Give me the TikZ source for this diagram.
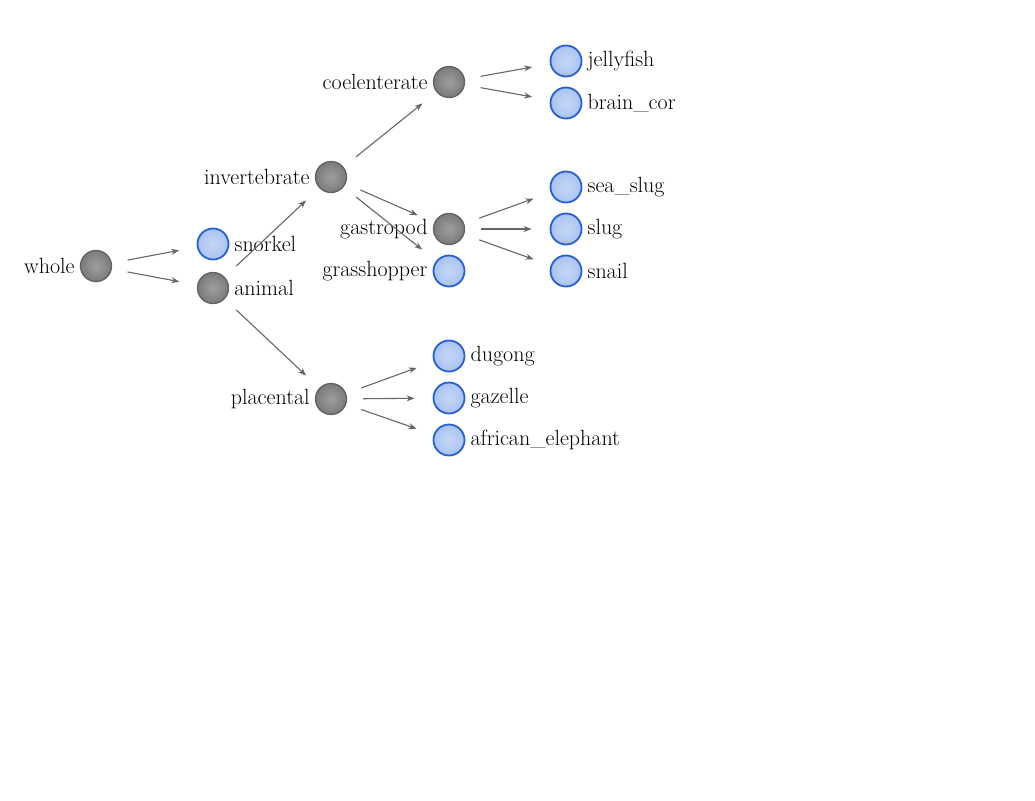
\documentclass[tikz,border=0pt]{standalone}
\usetikzlibrary{arrows.meta}
\definecolor{bfill}{HTML}{A9C3F2}
\definecolor{bfilli}{HTML}{C6D7F7}
\definecolor{bline}{HTML}{2560D8}
\begin{document}
\begin{tikzpicture}[x=1pt,y=-1pt,
  gnode/.style={circle,draw=black!62,line width=1.3pt,inner color=black!38,outer color=black!52,minimum size=31pt,inner sep=0pt},
  bnode/.style={circle,draw=bline,line width=1.8pt,inner color=bfilli,outer color=bfill,minimum size=31pt,inner sep=0pt},
  lbl/.style={font=\fontsize{22}{24}\selectfont,inner sep=5pt},
  arr/.style={-{Stealth[length=8pt,width=6pt]},draw=black!60,line width=1.1pt,shorten <=16pt,shorten >=18pt}]
\useasboundingbox (0,0) rectangle (1035,800);
\node[gnode] (whole) at (96,266) {};
\node[bnode] (snorkel) at (213,244) {};
\node[gnode] (animal) at (213,288) {};
\node[gnode] (invert) at (331,177) {};
\node[gnode] (placental) at (331,399) {};
\node[gnode] (coel) at (449,82) {};
\node[gnode] (gastro) at (449,229) {};
\node[bnode] (grass) at (449,271) {};
\node[bnode] (jelly) at (566,61) {};
\node[bnode] (brain) at (566,103) {};
\node[bnode] (seaslug) at (566,187) {};
\node[bnode] (slug) at (566,229) {};
\node[bnode] (snail) at (566,271) {};
\node[bnode] (dugong) at (449,356) {};
\node[bnode] (gazelle) at (449,398) {};
\node[bnode] (eleph) at (449,440) {};
\node[lbl,left] (lw) at (whole.west) {whole};
\node[lbl,right] (ls) at (snorkel.east) {snorkel};
\node[lbl,right] (la) at (animal.east) {animal};
\node[lbl,left] (li) at (invert.west) {invertebrate};
\node[lbl,left] (lp) at (placental.west) {placental};
\node[lbl,left] (lc) at (coel.west) {coelenterate};
\node[lbl,left] (lg) at (gastro.west) {gastropod};
\node[lbl,left] (lgr) at (grass.west) {grasshopper};
\node[lbl,right] (lj) at (jelly.east) {jellyfish};
\node[lbl,right] (lb) at (brain.east) {brain\_cor};
\node[lbl,right] (lss) at (seaslug.east) {sea\_slug};
\node[lbl,right] (lsl) at (slug.east) {slug};
\node[lbl,right] (lsn) at (snail.east) {snail};
\node[lbl,right] (ld) at (dugong.east) {dugong};
\node[lbl,right] (lgz) at (gazelle.east) {gazelle};
\node[lbl,right] (le) at (eleph.east) {african\_elephant};
\draw[arr] (whole) -- (snorkel);
\draw[arr] (whole) -- (animal);
\draw[arr] (animal) -- (invert);
\draw[arr] (animal) -- (placental);
\draw[arr] (invert) -- (coel);
\draw[arr] (invert) -- (gastro);
\draw[arr] (invert) -- (grass);
\draw[arr] (coel) -- (jelly);
\draw[arr] (coel) -- (brain);
\draw[arr] (gastro) -- (seaslug);
\draw[arr] (gastro) -- (slug);
\draw[arr] (gastro) -- (snail);
\draw[arr] (placental) -- (dugong);
\draw[arr] (placental) -- (gazelle);
\draw[arr] (placental) -- (eleph);
\end{tikzpicture}
\end{document}
